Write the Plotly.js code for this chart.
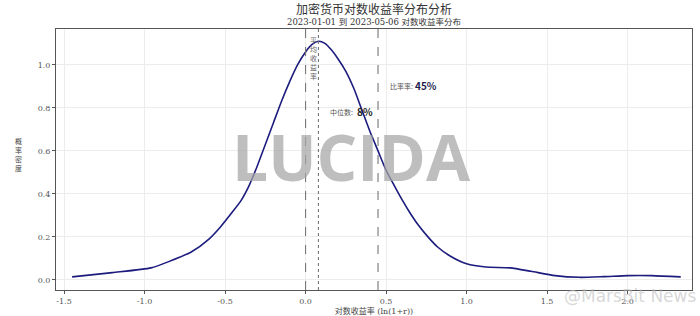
<!DOCTYPE html>
<html><head><meta charset="utf-8">
<script src="https://cdn.plot.ly/plotly-3.0.1.min.js"></script>
<style>body{margin:0;background:#fff}#chart{width:700px;height:316px}</style>
</head><body><div id="chart"></div>
<script>
const kdeX = [-1.45,-1.2,-0.96,-0.85,-0.71,-0.6,-0.53,-0.45,-0.4,-0.35,-0.3,-0.25,-0.2,-0.15,-0.1,-0.05,0.0,0.04,0.08,0.12,0.16,0.2,0.25,0.3,0.35,0.4,0.45,0.5,0.55,0.6,0.65,0.7,0.76,0.82,0.9,1.0,1.12,1.27,1.4,1.55,1.7,1.85,2.0,2.15,2.33];
const kdeY = [0.014,0.034,0.056,0.085,0.13,0.19,0.245,0.32,0.37,0.44,0.53,0.63,0.73,0.83,0.92,1.0,1.06,1.095,1.11,1.1,1.07,1.03,0.97,0.89,0.79,0.69,0.6,0.51,0.44,0.372,0.31,0.255,0.2,0.153,0.11,0.075,0.06,0.056,0.04,0.02,0.012,0.015,0.02,0.02,0.014];
const meanX = 0.0, medianX = 0.08, ratioX = 0.45;
const xTicks = [-1.5,-1.0,-0.5,0.0,0.5,1.0,1.5,2.0];
const yTicks = [0.0,0.2,0.4,0.6,0.8,1.0];
const titleText = "加密货币对数收益率分布分析";
const subtitleText = "2023-01-01 到 2023-05-06 对数收益率分布";

const cjk = '"DejaVu Serif", "Noto Sans CJK SC", serif';
const cjkSans = '"Noto Sans CJK SC", sans-serif';
const traces = [{
  x: kdeX, y: kdeY, type: 'scatter', mode: 'lines',
  line: {color: '#1c1c7e', width: 1.6, shape: 'spline', smoothing: 0.6},
  hoverinfo: 'skip'
}];
const vline = (x, dash) => ({type:'line', xref:'x', yref:'paper', x0:x, x1:x, y0:0, y1:1,
  line:{color:'#777', width:1.1, dash:dash}});
const label = (text, x, y, size, color, weight) => ({text, xref:'x', yref:'y', x, y,
  xanchor:'left', yanchor:'middle', showarrow:false,
  font:{size, color, family:cjkSans, weight: weight || 'normal'}});
const layout = {
  width: 700, height: 316,
  margin: {l: 56, r: 8, t: 29, b: 26},
  paper_bgcolor: '#fff', plot_bgcolor: '#fff',
  showlegend: false,
  font: {family: cjk, color: '#444', size: 8},
  xaxis: {range: [-1.55, 2.40], tickvals: xTicks, ticktext: xTicks.map(v=>v.toFixed(1)),
    showgrid: true, gridcolor: '#ececec', zeroline: false, ticks: 'outside', ticklen: 3,
    tickcolor: '#555', showline: true, linecolor: '#555', mirror: true,
    tickfont: {size: 8, color: '#555'},
    title: {text: '对数收益率 (ln(1+r))', font: {size: 8, color: '#444'}, standoff: 4}},
  yaxis: {range: [-0.047, 1.167], tickvals: yTicks, ticktext: yTicks.map(v=>v.toFixed(1)),
    showgrid: true, gridcolor: '#ececec', zeroline: false, ticks: 'outside', ticklen: 3,
    tickcolor: '#555', showline: true, linecolor: '#555', mirror: true,
    tickfont: {size: 8, color: '#555'}},
  shapes: [vline(meanX, 'dash'), vline(medianX, 'dot'), vline(ratioX, 'dash')],
  annotations: [
    {text: titleText, xref:'paper', yref:'paper', x:0.5, y:1, yshift: 21, xanchor:'center', yanchor:'middle', showarrow:false,
     font:{size:12, color:'#333', family:cjkSans}},
    {text: subtitleText, xref:'paper', yref:'paper', x:0.5, y:1, yshift: 7, xanchor:'center', yanchor:'middle', showarrow:false,
     font:{size:8.5, color:'#333'}},
    {text: '概<br>率<br>密<br>度', xref:'paper', yref:'paper', x:0, xshift:-38, y:0.52, xanchor:'center', yanchor:'middle', showarrow:false,
     font:{size:7, color:'#444', family:cjkSans}},
    {text: '平<br>均<br>收<br>益<br>率', xref:'x', yref:'paper', x:meanX, xshift:2, y:0.985, xanchor:'left', yanchor:'top', showarrow:false,
     font:{size:7, color:'#666', family:cjkSans}},
    label('中位数:', 0.14, 0.78, 7, '#555'),
    label('8%', 0.305, 0.785, 10, '#222', 'bold'),
    label('比率率:', 0.515, 0.90, 7, '#555'),
    label('45%', 0.67, 0.905, 10, '#1c1c4e', 'bold'),
    {text: '<b>LUCIDA</b>', xref:'paper', yref:'paper', x:0.465, y:0.51, xanchor:'center', yanchor:'middle', showarrow:false,
     font:{size:64, color:'rgba(165,165,165,0.72)', family:'"Open Sans", "DejaVu Sans", sans-serif'}},
    {text: '@MarsBit News', xref:'paper', yref:'paper', x:1, xshift:6, y:0, yshift:-6, xanchor:'right', yanchor:'middle', showarrow:false,
     font:{size:17, color:'rgba(190,190,190,0.6)', family:'"DejaVu Sans", sans-serif'}}
  ]
};
Plotly.newPlot('chart', traces, layout, {displayModeBar: false, staticPlot: true});
</script></body></html>
